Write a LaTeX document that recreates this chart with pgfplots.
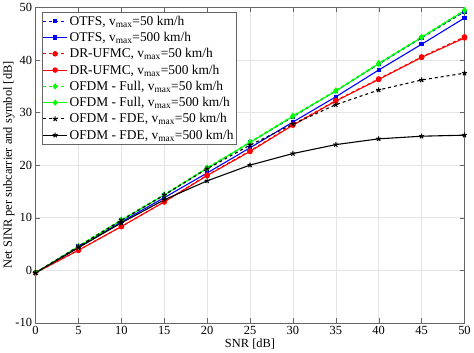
\documentclass[border=0pt]{standalone}
\usepackage{pgfplots}
\pgfplotsset{compat=1.18}
\usepackage{fontspec}
\setmainfont{Liberation Serif}
\definecolor{mblue}{RGB}{0,0,255}
\definecolor{mred}{RGB}{255,0,0}
\definecolor{mgreen}{RGB}{0,255,0}
\begin{document}
\begin{tikzpicture}
\begin{axis}[
  scale only axis,
  width=430bp, height=316bp,
  xmin=0, xmax=50, ymin=-10, ymax=50,
  xtick={0,5,...,50}, ytick={-10,0,...,50},
  grid=major, major grid style={gray!20},
  tick align=inside, tick style={black!60},
  axis line style={black!60},
  /pgf/number format/assume math mode=true,
  tick label style={font=\fontsize{12.5}{14}\selectfont},
  label style={font=\fontsize{12.5}{14}\selectfont},
  xlabel={SNR [dB]},
  ylabel={Net SINR per subcarrier and symbol [dB]},
  xlabel style={yshift=3pt},
  ylabel style={yshift=-6pt},
  legend cell align=left,
  legend image code/.code={%
    \draw[mark repeat=2,mark phase=2] plot coordinates {(0cm,0cm) (0.42cm,0cm) (0.84cm,0cm)};},
  legend style={at={(0.014,0.985)}, anchor=north west, font=\fontsize{13.5}{15}\selectfont, draw=black!60, row sep=1.5pt, inner sep=1.5pt, inner xsep=1pt},
  every axis plot/.append style={line width=1.1pt},
]
\addplot[mblue, dashed, mark=square*, mark size=1.6pt, mark options={solid}] coordinates {
(0,-0.5)(5,4.5)(10,9.5)(15,14.3)(20,19.4)(25,24.3)(30,29.2)(35,34.1)(40,39.2)(45,44.2)(50,49.2)};
\addlegendentry{OTFS, v$_{\mathrm{max}}$=50 km/h}
\addplot[mblue, mark=square*, mark size=1.6pt] coordinates {
(0,-0.5)(5,4.3)(10,9.2)(15,13.8)(20,18.5)(25,23.3)(30,28.2)(35,33.0)(40,38.1)(45,43.0)(50,48.0)};
\addlegendentry{OTFS, v$_{\mathrm{max}}$=500 km/h}
\addplot[mred, dashed, mark=*, mark size=2.2pt, mark options={solid}] coordinates {
(0,-0.5)(5,3.8)(10,8.3)(15,13.0)(20,18.1)(25,22.7)(30,27.7)(35,32.3)(40,36.4)(45,40.6)(50,44.4)};
\addlegendentry{DR-UFMC, v$_{\mathrm{max}}$=50 km/h}
\addplot[mred, mark=*, mark size=2.2pt] coordinates {
(0,-0.5)(5,3.8)(10,8.3)(15,13.0)(20,18.0)(25,22.6)(30,27.6)(35,32.2)(40,36.3)(45,40.5)(50,44.2)};
\addlegendentry{DR-UFMC, v$_{\mathrm{max}}$=500 km/h}
\addplot[mgreen, dashed, mark=diamond*, mark size=2.4pt, mark options={solid}] coordinates {
(0,-0.5)(5,4.6)(10,9.6)(15,14.4)(20,19.5)(25,24.4)(30,29.4)(35,34.2)(40,39.4)(45,44.4)(50,49.5)};
\addlegendentry{OFDM - Full, v$_{\mathrm{max}}$=50 km/h}
\addplot[mgreen, mark=diamond*, mark size=2.4pt] coordinates {
(0,-0.5)(5,4.5)(10,9.5)(15,14.3)(20,19.4)(25,24.3)(30,29.3)(35,34.1)(40,39.3)(45,44.3)(50,49.4)};
\addlegendentry{OFDM - Full, v$_{\mathrm{max}}$=500 km/h}
\addplot[black, dashed, mark=star, mark size=2.6pt, mark options={solid}] coordinates {
(0,-0.5)(5,4.5)(10,9.5)(15,14.3)(20,19.3)(25,23.8)(30,27.8)(35,31.5)(40,34.3)(45,36.2)(50,37.5)};
\addlegendentry{OFDM - FDE, v$_{\mathrm{max}}$=50 km/h}
\addplot[black, mark=star, mark size=2.6pt] coordinates {
(0,-0.5)(5,4.3)(10,9.0)(15,13.4)(20,17.0)(25,20.0)(30,22.2)(35,23.9)(40,25.0)(45,25.5)(50,25.7)};
\addlegendentry{OFDM - FDE, v$_{\mathrm{max}}$=500 km/h}
\end{axis}
\end{tikzpicture}
\end{document}
